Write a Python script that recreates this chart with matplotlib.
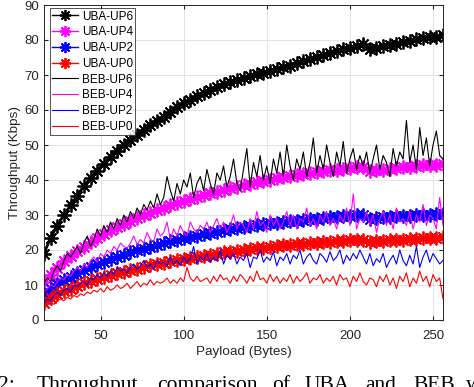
import numpy as np
import matplotlib
matplotlib.use('Agg')
import matplotlib.pyplot as plt

plt.rcParams['font.family'] = ['Liberation Sans', 'DejaVu Sans']

# payload sizes (bytes)
x_uba = list(range(16, 257, 4))
x_beb = list(range(16, 257, 2))

# UBA curves (smooth, read every 4 bytes)
uba_up6 = [19, 23.5, 27, 30, 32.8, 35.5, 38.3, 40.5, 42.7, 44.7, 46.6, 48.4, 50, 51.5, 53, 54.3,
           55.6, 56.8, 58, 59.5, 60.8, 62, 63, 64, 64.9, 65.8, 66.6, 67.3, 68, 68.6, 69.1, 69.7,
           70.2, 70.7, 71.2, 71.7, 72.2, 72.7, 73.3, 73.9, 74.5, 75.1, 75.7, 76.2, 76.8, 77.3,
           77.7, 78.3, 79, 77.3, 77.8, 78.2, 78.6, 79, 79.4, 79.8, 80.2, 80.5, 80.8, 81, 81.3]
uba_up4 = [11, 13, 15, 16.8, 18.3, 19.8, 21, 22.3, 23.5, 24.6, 25.6, 26.6, 27.5, 28.4, 29.2, 30,
           30.7, 31.4, 32.1, 32.8, 33.4, 34, 34.6, 35.2, 35.7, 36.2, 36.7, 37.2, 37.7, 38.1, 38.5,
           38.9, 39.3, 39.7, 40.1, 40.5, 40.8, 41.1, 41.4, 41.7, 42, 42.3, 42.6, 42.8, 43, 43.2,
           43.4, 43.6, 43.8, 42.6, 42.8, 43, 43.2, 43.4, 43.6, 43.8, 44, 44.2, 44.3, 44.4, 44.5]
uba_up2 = [7.5, 9, 10.3, 11.4, 12.4, 13.4, 14.3, 15.1, 15.9, 16.7, 17.4, 18.1, 18.7, 19.3, 19.9,
           20.4, 21, 21.5, 22, 22.5, 22.9, 23.3, 23.7, 24.1, 24.5, 24.9, 25.2, 25.6, 25.9, 26.2,
           26.5, 26.8, 27.1, 27.3, 27.6, 27.8, 28, 28.2, 28.4, 28.6, 28.8, 29, 29.2, 29.3, 29.5,
           29.6, 29.8, 29.9, 30, 29, 29.2, 29.3, 29.5, 29.6, 29.7, 29.8, 29.9, 30, 30.1, 30.2, 30.3]
uba_up0 = [5, 6.3, 7.3, 8.2, 9, 9.8, 10.5, 11.1, 11.7, 12.3, 12.8, 13.3, 13.8, 14.3, 14.7, 15.2,
           15.6, 16, 16.4, 16.8, 17.1, 17.5, 17.8, 18.1, 18.4, 18.7, 19, 19.3, 19.5, 19.8, 20,
           20.3, 20.5, 20.7, 20.9, 21.1, 21.3, 21.5, 21.6, 21.8, 22, 22.1, 22.3, 22.4, 22.5, 22.7,
           22.8, 22.9, 23, 22.4, 22.5, 22.7, 22.8, 22.9, 23, 23.1, 23.2, 23.3, 23.4, 23.5, 23.6]

# BEB curves (noisy, read every 2 bytes)
beb_up6 = [10.5, 12, 11, 14, 15.5, 14, 17, 19, 18, 19.5, 21, 19,
           22, 24, 21, 23, 26, 24, 27, 25, 28, 26, 29, 27,
           30, 28, 31, 29, 32, 30, 33, 31.5, 34, 32, 36, 33,
           35, 41, 37, 34, 39, 36, 40, 38, 42, 35, 39, 41,
           37, 43, 39, 36, 42, 40, 44, 38, 41, 46, 39, 37,
           43, 49, 38, 45, 41, 47, 40, 44, 39, 46, 42, 48,
           41, 50, 44, 40, 46, 43, 48, 41, 45, 52, 42, 47,
           43, 50, 45, 41, 48, 44, 51, 42, 46, 49, 43, 47,
           44, 48, 42, 46, 50, 43, 47, 45, 41, 49, 44, 48,
           46, 57, 45, 50, 43, 55, 47, 52, 44, 50, 54, 47,
           46]
beb_up4 = [8, 9, 10, 9.5, 11, 12, 11.5, 13, 12.5, 14, 15, 14,
           16, 15, 17, 18, 16.5, 19, 18, 20, 19, 21, 20, 22,
           21, 20.5, 22, 24, 21.5, 23, 22, 25, 23, 22.5, 26, 24,
           25, 28, 23, 26, 24, 27, 25, 24, 28, 26, 25, 27,
           26, 28, 25, 27, 29, 26, 28, 25, 27, 30, 26, 28,
           27, 25, 29, 26, 31, 27, 28, 25, 30, 27, 29, 26,
           28, 31, 27, 30, 26, 29, 28, 32, 27, 29, 26, 30,
           28, 31, 27, 29, 26, 30, 28, 32, 27, 36, 26, 29,
           28, 31, 27, 30, 25, 29, 31, 27, 30, 26, 32, 28,
           29, 27, 31, 26, 30, 28, 33, 27, 30, 29, 26, 35,
           27]
beb_up2 = [5, 6, 5.5, 7, 8, 7, 8.5, 9, 8, 10, 9.5, 10.5,
           11, 10, 12, 11.5, 13, 12, 13.5, 12.5, 14, 13, 15, 14,
           14.5, 13.5, 15, 16, 14.5, 15.5, 17, 15, 16, 14.5, 17, 16,
           16.5, 15.5, 18, 16, 17, 15.5, 18, 16.5, 17.5, 21, 16, 18,
           17, 19, 16.5, 18, 17, 20, 16, 18.5, 17.5, 19, 16, 18,
           17, 19, 15, 18, 17.5, 20, 16.5, 18, 17, 19.5, 15.5, 18,
           17, 19, 16, 18.5, 17.5, 20, 16, 18, 19, 17, 16, 19,
           18, 16.5, 19.5, 17, 18, 20, 16, 18.5, 17, 19, 17.5, 20,
           18, 16, 19, 15.5, 17.5, 16.5, 19, 15, 17, 18.5, 16, 20,
           17, 15.5, 18.5, 16, 21, 15, 18, 20, 16.5, 19, 17.5, 16,
           17]
beb_up0 = [4, 4.5, 5, 4.5, 5.5, 6, 5.5, 6.5, 6, 7, 6.5, 7.5,
           7, 8, 7.5, 8.5, 8, 9, 8, 9.5, 8.5, 9, 10, 9,
           9.5, 10.5, 9, 10, 11, 9.5, 10.5, 10, 11.5, 10, 11, 10.5,
           11, 12, 10.5, 11.5, 10.5, 12, 11, 15, 12, 11, 12.5, 11,
           11.5, 12, 10.5, 12.5, 11, 13, 11.5, 12, 10.5, 12.5, 11, 13,
           12, 10.5, 12.5, 11, 14, 11.5, 12, 10.5, 13, 11, 12.5, 10.5,
           12, 11, 13, 10.5, 12.5, 11, 12, 13.5, 10.5, 12, 11.5, 13,
           10.5, 12, 11, 12.5, 10, 13, 11.5, 12, 9.5, 12.5, 11, 13.5,
           11, 10, 12, 11.5, 9.5, 12.5, 11, 13, 10, 12, 9, 12.5,
           11, 13.5, 9.5, 12, 10.5, 14, 11, 12.5, 9.5, 13, 11, 12,
           6]

colors = ['k', '#ff00ff', '#0000ff', '#ff0000']
labels_uba = ['UBA-UP6', 'UBA-UP4', 'UBA-UP2', 'UBA-UP0']
labels_beb = ['BEB-UP6', 'BEB-UP4', 'BEB-UP2', 'BEB-UP0']
uba = [uba_up6, uba_up4, uba_up2, uba_up0]
beb = [beb_up6, beb_up4, beb_up2, beb_up0]

fig = plt.figure(figsize=(4.74, 3.87), dpi=100)
ax = fig.add_axes([44/474, 1-320/387, (443-44)/474, (320-5)/387])

for i in range(4):
    ax.plot(x_uba, uba[i], color=colors[i], marker=(8, 2, 0), markersize=10,
            markeredgewidth=1.3, linewidth=2.0, label=labels_uba[i])
for i in range(4):
    ax.plot(x_beb, beb[i], color=colors[i], linewidth=0.8, label=labels_beb[i])

ax.set_xlim(16, 256)
ax.set_ylim(0, 90)
ax.set_xticks([50, 100, 150, 200, 250])
ax.set_yticks(range(0, 91, 10))
ax.grid(True, color='#e3e3e3', linewidth=0.7)
ax.set_axisbelow(True)
ax.tick_params(direction='in', top=True, right=True, labelsize=9.5, colors='#262626', length=3)
ax.tick_params(axis='x', pad=7)
for s in ax.spines.values():
    s.set_color('#262626')
    s.set_linewidth(0.7)
ax.set_xlabel('Payload (Bytes)', fontsize=9.7, color='#262626', labelpad=3)
ax.set_ylabel('Throughput (Kbps)', fontsize=9.7, color='#262626', labelpad=2)

leg = ax.legend(loc='upper left', bbox_to_anchor=(0.015, 0.99), fontsize=8.5, frameon=True,
                fancybox=False, handlelength=2.2, handletextpad=0.3, labelspacing=0.32,
                borderpad=0.2, borderaxespad=0)
leg.get_frame().set_edgecolor('#262626')
leg.get_frame().set_linewidth(0.7)
for h in leg.legend_handles[:4]:
    h.set_markersize(8)
    h.set_linewidth(1.0)

# caption from the paper, cut by the image edge
words = ['2:', 'Throughput', 'comparison', 'of', 'UBA', 'and', 'BEB', 'w']
word_x = [-2, 37, 157, 272, 305, 365, 413, 466]
for w, px in zip(words, word_x):
    fig.text(px/474, -3/387, w, fontsize=15.5, family='Liberation Serif', va='baseline', ha='left')

fig.savefig('out.png', dpi=100)
